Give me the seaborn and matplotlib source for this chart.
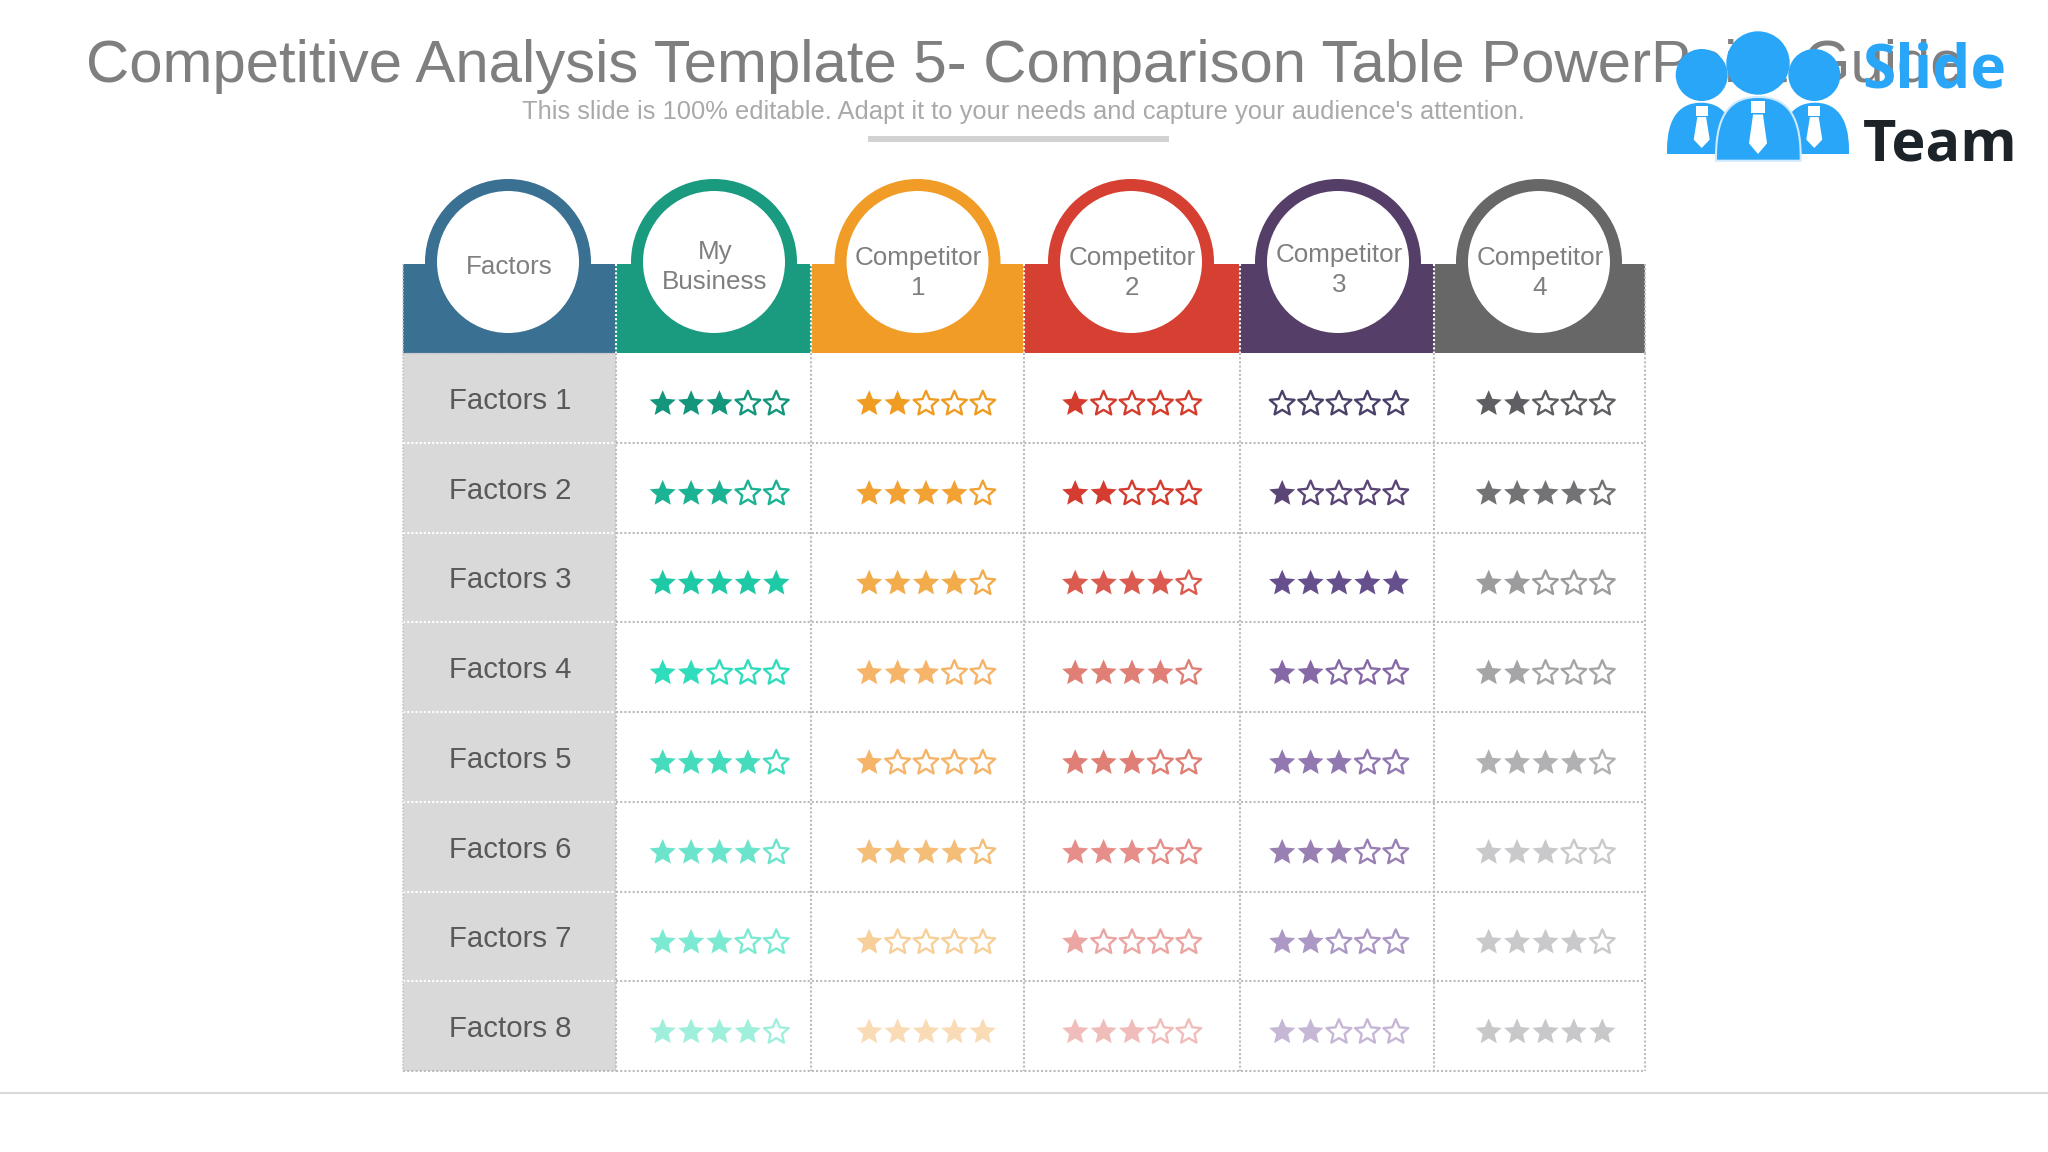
import pandas as pd
import seaborn as sns
import matplotlib.pyplot as plt
from matplotlib.patches import Circle, Rectangle, PathPatch, Polygon
from matplotlib.path import Path

# Chart content
TITLE = "Competitive Analysis Template 5- Comparison Table PowerPoint Guide"
SUBTITLE = "This slide is 100% editable. Adapt it to your needs and capture your audience's attention."
FACTORS = ["Factors 1", "Factors 2", "Factors 3", "Factors 4", "Factors 5", "Factors 6", "Factors 7", "Factors 8"]
COLUMNS = ["My\nBusiness", "Competitor\n1", "Competitor\n2", "Competitor\n3", "Competitor\n4"]

# stars per factor
my_business = [3, 3, 5, 2, 4, 4, 3, 4]
competitor_1 = [2, 4, 4, 3, 1, 4, 1, 5]
competitor_2 = [1, 2, 4, 4, 3, 3, 1, 3]
competitor_3 = [0, 1, 5, 2, 3, 3, 2, 2]
competitor_4 = [2, 4, 2, 2, 4, 3, 4, 5]
RATINGS = [my_business, competitor_1, competitor_2, competitor_3, competitor_4]

# star colours fade from the top row to the bottom row
teal_shades = ["#14967c", "#1cb294", "#1ec9a6", "#2fdcbb", "#45dcbd", "#6ce4cb", "#7ce9d3", "#a0efdd"]
orange_shades = ["#f09c22", "#f2a233", "#f2ac4c", "#f5b468", "#f5b468", "#f4bd78", "#f7cf99", "#f9dcb6"]
red_shades = ["#d43c2d", "#d43c30", "#db5b50", "#e07f75", "#e07f75", "#e68f8a", "#eba5a2", "#f0bdbb"]
purple_shades = ["#4a4068", "#5b4577", "#654f8c", "#8768a6", "#9278b0", "#9880b2", "#ac98c4", "#c5b7d5"]
gray_shades = ["#5f5f63", "#737376", "#9c9c9e", "#a5a5a8", "#b1b1b3", "#c9c9cb", "#c9c9cb", "#c8c8ca"]
SHADES = [teal_shades, orange_shades, red_shades, purple_shades, gray_shades]
HEADER_COLORS = ["#3a7091", "#1a9b80", "#f09c27", "#d54032", "#553f68", "#676767"]

# Layout, everything in pixels of the 2048x1152 slide
COL_EDGES = [403, 616, 811, 1024, 1240, 1434, 1645]
ARCH_X = [508, 714, 917.5, 1131, 1338, 1539]
STAR_X = [719.5, 926, 1132, 1339, 1545.5]
HEADER_TEXT_Y = [266, 266, 272, 272, 269, 272]
BAND_TOP = 264
TABLE_TOP = 353
ROW_H = 89.75
STAR_GAP = 28.4
GRID = "#bcbcc0"

sns.set_theme(style="white")
plt.rcParams['font.family'] = ['Liberation Sans', 'DejaVu Sans']

fig = plt.figure(figsize=(20.48, 11.52), dpi=100, facecolor="white")
ax = fig.add_axes([0, 0, 1, 1])
ax.set_xlim(0, 2048)
ax.set_ylim(1152, 0)
ax.axis("off")

# --- Title block ---
ax.text(1025, 67, TITLE, fontsize=43.2, color="#7f7f7f", ha="center", va="center", zorder=2)
ax.text(1023, 112, SUBTITLE, fontsize=18.35, color="#a9a9a9", ha="center", va="center", zorder=2)
ax.add_patch(Rectangle((868, 136), 301, 6, color="#d2d2d2", lw=0))
ax.plot([0, 2048], [1093, 1093], color="#d9d9d9", lw=1.5)

# --- Header arches and bands ---
for i, color in enumerate(HEADER_COLORS):
    ax.add_patch(Rectangle((COL_EDGES[i], BAND_TOP), COL_EDGES[i + 1] - COL_EDGES[i], TABLE_TOP - BAND_TOP,
                           color=color, lw=0, zorder=1))
    ax.add_patch(Circle((ARCH_X[i], 262), 83, color=color, lw=0, zorder=1))
    ax.add_patch(Circle((ARCH_X[i], 262), 71, color="white", lw=0, zorder=1.1))

header_labels = ["Factors"] + COLUMNS
for x, y, label in zip(ARCH_X, HEADER_TEXT_Y, header_labels):
    ax.text(x + 1, y + 1, label, fontsize=18.7, color="#7f7f80", ha="center", va="center",
            linespacing=1.3, zorder=3)

# --- Factor column ---
ax.add_patch(Rectangle((COL_EDGES[0], TABLE_TOP), COL_EDGES[1] - COL_EDGES[0], ROW_H * len(FACTORS),
                       color="#d9d9d9", lw=0, zorder=0.5))
for r, name in enumerate(FACTORS):
    ax.text(510, TABLE_TOP + ROW_H * (r + 0.5) + 3, name, fontsize=21.2, color="#595959",
            ha="center", va="center", zorder=3)

# --- Dotted grid ---
dots = (0, (1, 1))
table_bottom = TABLE_TOP + ROW_H * len(FACTORS)
for r in range(1, len(FACTORS) + 1):
    y = TABLE_TOP + ROW_H * r
    ax.plot([COL_EDGES[1], COL_EDGES[-1]], [y, y], color=GRID, lw=1.5, ls=dots, zorder=1.5)
    if r < len(FACTORS):
        ax.plot(COL_EDGES[:2], [y, y], color="white", lw=1.5, ls=dots, zorder=1.5)
ax.plot([COL_EDGES[0], COL_EDGES[1]], [table_bottom, table_bottom], color=GRID, lw=1.5, ls=dots, zorder=1.5)
ax.plot(COL_EDGES[:2], [TABLE_TOP, TABLE_TOP], color=GRID, lw=1, ls=dots, zorder=1.5)
ax.plot([COL_EDGES[0], COL_EDGES[0]], [BAND_TOP, table_bottom], color="#c8c8cc", lw=1.2, ls=dots, zorder=1.5)
for x in COL_EDGES[1:]:
    ax.plot([x, x], [TABLE_TOP, table_bottom], color=GRID, lw=1.5, ls=dots, zorder=1.5)
for x in COL_EDGES[1:-1]:
    ax.plot([x, x], [BAND_TOP, TABLE_TOP], color="white", lw=1.5, ls=dots, zorder=1.5)
ax.plot([COL_EDGES[-1], COL_EDGES[-1]], [BAND_TOP, TABLE_TOP], color=GRID, lw=1.5, ls=dots, zorder=1.5)

# --- Stars ---
rows = []
for c, ratings in enumerate(RATINGS):
    for r, rating in enumerate(ratings):
        for s in range(5):
            rows.append({
                "x": STAR_X[c] + (s - 2) * STAR_GAP,
                "y": TABLE_TOP + ROW_H * (r + 0.5) + 6,
                "filled": s < rating,
                "shade": SHADES[c][r],
            })
stars = pd.DataFrame(rows)
palette = {shade: shade for shade in stars["shade"].unique()}

# fatter than the stock "*" marker, like the slide's star shape
star_marker = Path.unit_regular_star(5, innerCircle=0.46)

sns.scatterplot(data=stars[stars["filled"]], x="x", y="y", hue="shade", palette=palette,
                marker=star_marker, s=390, linewidth=0, legend=False, ax=ax, zorder=4)
sns.scatterplot(data=stars[~stars["filled"]], x="x", y="y", hue="shade", palette=palette,
                marker=star_marker, s=350, linewidth=1.7, legend=False, ax=ax, zorder=4)
outline = ax.collections[-1]
outline.set_edgecolors(outline.get_facecolors())
outline.set_facecolors("white")
ax.set_xlim(0, 2048)
ax.set_ylim(1152, 0)
ax.axis("off")

# --- Logo ---
BLUE = "#2aa6f9"


def body(x0, x1, y0, y1, edge="none"):
    mx = (x0 + x1) / 2
    w = x1 - x0
    verts = [(x0, y1 - 4), (x0, y0 + 14), (mx - w * 0.3, y0), (mx, y0),
             (mx + w * 0.3, y0), (x1, y0 + 14), (x1, y1 - 4),
             (x1, y1), (x0, y1), (x0, y1 - 4)]
    codes = [Path.MOVETO, Path.CURVE4, Path.CURVE4, Path.CURVE4, Path.CURVE4, Path.CURVE4, Path.CURVE4,
             Path.LINETO, Path.LINETO, Path.CLOSEPOLY]
    return PathPatch(Path(verts, codes), facecolor=BLUE, edgecolor=edge, lw=1.5, zorder=6)


def tie(x, y0, y1, half):
    knot_h = (y1 - y0) * 0.24
    ax.add_patch(Rectangle((x - half * 0.75, y0), half * 1.5, knot_h, color="white", lw=0, zorder=7))
    ax.add_patch(Polygon([(x - half * 0.55, y0 + knot_h + 1), (x + half * 0.55, y0 + knot_h + 1),
                          (x + half, y1 - (y1 - y0) * 0.2), (x, y1), (x - half, y1 - (y1 - y0) * 0.2)],
                         color="white", lw=0, zorder=7))


ax.add_patch(Circle((1701.7, 75), 26, color=BLUE, lw=0, zorder=6))
ax.add_patch(Circle((1814.3, 75), 26, color=BLUE, lw=0, zorder=6))
ax.add_patch(body(1667, 1735, 102.7, 154))
ax.add_patch(body(1781, 1849, 102.7, 154))
tie(1701.7, 106, 148, 8)
tie(1814.3, 106, 148, 8)
ax.add_patch(body(1716, 1800.7, 97, 160.7, edge="#cfe9fd"))
ax.add_patch(Circle((1758, 63), 31.7, color=BLUE, lw=0, zorder=6.5))
tie(1758, 100.7, 154, 9)
ax.text(1862, 87, "Slide", fontsize=43.5, fontweight="bold", family="Open Sans", color=BLUE,
        ha="left", va="baseline", zorder=8)
ax.text(1863, 160.7, "Team", fontsize=41.5, fontweight="bold", family="Open Sans", color="#1c2329",
        ha="left", va="baseline", zorder=8)

fig.savefig("out.png", dpi=100)
plt.close(fig)
